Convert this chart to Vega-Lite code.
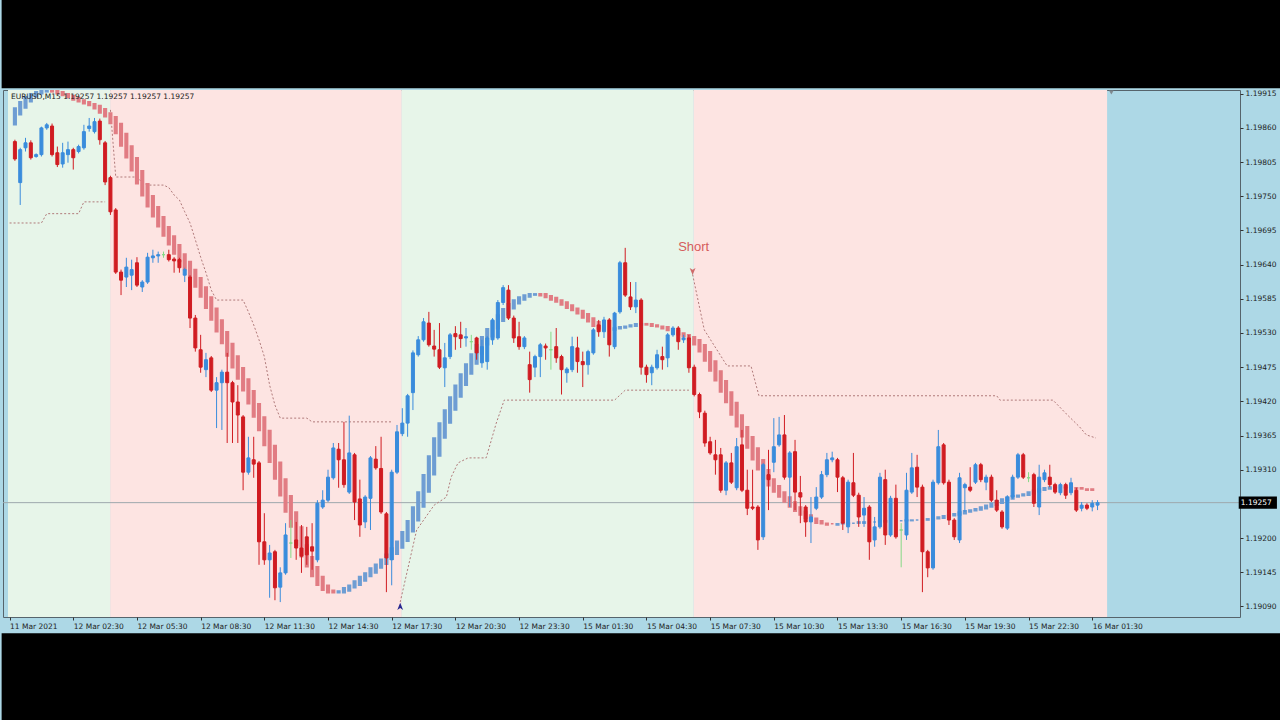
{
"$schema": "https://vega.github.io/schema/vega-lite/v6.json",
"width": 1237, "height": 527,
"autosize": {"type": "none"},
"padding": {"left": 3, "top": 90, "right": 40, "bottom": 103},
"background": "#add8e6",
"config": {"view": {"stroke": "#56646c", "strokeWidth": 1}, "axis": {"labelOverlap": false, "labelSeparation": 0, "labelBound": false}},
"datasets": {
"candles": [
{"i":0,"ma":1.19865,"md":"up"},
{"i":1,"o":1.19838,"h":1.19841,"l":1.19807,"c":1.19810,"ma":1.19881,"md":"up"},
{"i":2,"o":1.19772,"h":1.19828,"l":1.19736,"c":1.19825,"ma":1.19892,"md":"up"},
{"i":3,"o":1.19828,"h":1.19844,"l":1.19822,"c":1.19836,"ma":1.19902,"md":"up"},
{"i":4,"o":1.19836,"h":1.19840,"l":1.19809,"c":1.19812,"ma":1.19910,"md":"up"},
{"i":5,"o":1.19814,"h":1.19819,"l":1.19812,"c":1.19817,"ma":1.19915,"md":"up"},
{"i":6,"o":1.19817,"h":1.19862,"l":1.19814,"c":1.19860,"ma":1.19918,"md":"up"},
{"i":7,"o":1.19860,"h":1.19868,"l":1.19857,"c":1.19865,"ma":1.19920,"md":"up"},
{"i":8,"o":1.19863,"h":1.19867,"l":1.19814,"c":1.19817,"ma":1.19920,"md":"dn"},
{"i":9,"o":1.19820,"h":1.19830,"l":1.19797,"c":1.19801,"ma":1.19918,"md":"dn"},
{"i":10,"o":1.19802,"h":1.19836,"l":1.19796,"c":1.19820,"ma":1.19915,"md":"dn"},
{"i":11,"o":1.19817,"h":1.19838,"l":1.19804,"c":1.19825,"ma":1.19912,"md":"dn"},
{"i":12,"o":1.19825,"h":1.19828,"l":1.19793,"c":1.19812,"ma":1.19909,"md":"dn"},
{"i":13,"o":1.19822,"h":1.19833,"l":1.19819,"c":1.19830,"ma":1.19905,"md":"dn"},
{"i":14,"o":1.19828,"h":1.19865,"l":1.19825,"c":1.19854,"ma":1.19902,"md":"dn"},
{"i":15,"o":1.19859,"h":1.19876,"l":1.19854,"c":1.19863,"ma":1.19899,"md":"dn"},
{"i":16,"o":1.19854,"h":1.19876,"l":1.19851,"c":1.19870,"ma":1.19896,"md":"dn"},
{"i":17,"o":1.19871,"h":1.19875,"l":1.19833,"c":1.19841,"ma":1.19891,"md":"dn"},
{"i":18,"o":1.19836,"h":1.19839,"l":1.19768,"c":1.19773,"ma":1.19884,"md":"dn"},
{"i":19,"o":1.19780,"h":1.19783,"l":1.19720,"c":1.19725,"ma":1.19878,"md":"dn"},
{"i":20,"o":1.19728,"h":1.19731,"l":1.19625,"c":1.19628,"ma":1.19867,"md":"dn"},
{"i":21,"o":1.19628,"h":1.19632,"l":1.19591,"c":1.19615,"ma":1.19851,"md":"dn"},
{"i":22,"o":1.19620,"h":1.19651,"l":1.19604,"c":1.19636,"ma":1.19831,"md":"dn"},
{"i":23,"o":1.19623,"h":1.19648,"l":1.19599,"c":1.19632,"ma":1.19812,"md":"dn"},
{"i":24,"o":1.19643,"h":1.19652,"l":1.19604,"c":1.19607,"ma":1.19791,"md":"dn"},
{"i":25,"o":1.19604,"h":1.19615,"l":1.19596,"c":1.19612,"ma":1.19770,"md":"dn"},
{"i":26,"o":1.19612,"h":1.19659,"l":1.19609,"c":1.19652,"ma":1.19751,"md":"dn"},
{"i":27,"o":1.19651,"h":1.19664,"l":1.19643,"c":1.19654,"ma":1.19733,"md":"dn"},
{"i":28,"o":1.19654,"h":1.19661,"l":1.19643,"c":1.19656,"ma":1.19717,"md":"dn"},
{"i":29,"o":1.19656,"h":1.19661,"l":1.19651,"c":1.19656,"ma":1.19701,"md":"dn"},
{"i":30,"o":1.19656,"h":1.19664,"l":1.19645,"c":1.19648,"ma":1.19686,"md":"dn"},
{"i":31,"o":1.19649,"h":1.19652,"l":1.19627,"c":1.19646,"ma":1.19672,"md":"dn"},
{"i":32,"o":1.19648,"h":1.19651,"l":1.19627,"c":1.19635,"ma":1.19657,"md":"dn"},
{"i":33,"o":1.19623,"h":1.19635,"l":1.19612,"c":1.19632,"ma":1.19645,"md":"dn"},
{"i":34,"o":1.19620,"h":1.19623,"l":1.19538,"c":1.19554,"ma":1.19632,"md":"dn"},
{"i":35,"o":1.19554,"h":1.19559,"l":1.19500,"c":1.19506,"ma":1.19619,"md":"dn"},
{"i":36,"o":1.19503,"h":1.19527,"l":1.19466,"c":1.19475,"ma":1.19604,"md":"dn"},
{"i":37,"o":1.19471,"h":1.19498,"l":1.19459,"c":1.19487,"ma":1.19588,"md":"dn"},
{"i":38,"o":1.19490,"h":1.19493,"l":1.19435,"c":1.19438,"ma":1.19570,"md":"dn"},
{"i":39,"o":1.19438,"h":1.19459,"l":1.19377,"c":1.19450,"ma":1.19551,"md":"dn"},
{"i":40,"o":1.19450,"h":1.19471,"l":1.19374,"c":1.19467,"ma":1.19532,"md":"dn"},
{"i":41,"o":1.19467,"h":1.19498,"l":1.19353,"c":1.19450,"ma":1.19513,"md":"dn"},
{"i":42,"o":1.19450,"h":1.19453,"l":1.19353,"c":1.19419,"ma":1.19493,"md":"dn"},
{"i":43,"o":1.19419,"h":1.19446,"l":1.19353,"c":1.19398,"ma":1.19474,"md":"dn"},
{"i":44,"o":1.19395,"h":1.19398,"l":1.19277,"c":1.19306,"ma":1.19456,"md":"dn"},
{"i":45,"o":1.19306,"h":1.19363,"l":1.19302,"c":1.19329,"ma":1.19437,"md":"dn"},
{"i":46,"o":1.19326,"h":1.19363,"l":1.19297,"c":1.19319,"ma":1.19416,"md":"dn"},
{"i":47,"o":1.19321,"h":1.19324,"l":1.19157,"c":1.19194,"ma":1.19395,"md":"dn"},
{"i":48,"o":1.19194,"h":1.19240,"l":1.19157,"c":1.19165,"ma":1.19373,"md":"dn"},
{"i":49,"o":1.19165,"h":1.19189,"l":1.19104,"c":1.19176,"ma":1.19349,"md":"dn"},
{"i":50,"o":1.19178,"h":1.19181,"l":1.19100,"c":1.19120,"ma":1.19322,"md":"dn"},
{"i":51,"o":1.19121,"h":1.19153,"l":1.19097,"c":1.19144,"ma":1.19295,"md":"dn"},
{"i":52,"o":1.19144,"h":1.19224,"l":1.19141,"c":1.19205,"ma":1.19268,"md":"dn"},
{"i":53,"o":1.19192,"h":1.19229,"l":1.19168,"c":1.19192,"ma":1.19242,"md":"dn"},
{"i":54,"o":1.19197,"h":1.19226,"l":1.19165,"c":1.19184,"ma":1.19218,"md":"dn"},
{"i":55,"o":1.19184,"h":1.19221,"l":1.19144,"c":1.19171,"ma":1.19189,"md":"dn"},
{"i":56,"o":1.19202,"h":1.19218,"l":1.19157,"c":1.19173,"ma":1.19170,"md":"dn"},
{"i":57,"o":1.19186,"h":1.19224,"l":1.19149,"c":1.19179,"ma":1.19154,"md":"dn"},
{"i":58,"o":1.19165,"h":1.19261,"l":1.19161,"c":1.19256,"ma":1.19138,"md":"dn"},
{"i":59,"o":1.19250,"h":1.19277,"l":1.19247,"c":1.19261,"ma":1.19124,"md":"dn"},
{"i":60,"o":1.19261,"h":1.19310,"l":1.19258,"c":1.19298,"ma":1.19116,"md":"dn"},
{"i":61,"o":1.19297,"h":1.19353,"l":1.19294,"c":1.19345,"ma":1.19112,"md":"dn"},
{"i":62,"o":1.19343,"h":1.19353,"l":1.19281,"c":1.19326,"ma":1.19112,"md":"up"},
{"i":63,"o":1.19326,"h":1.19387,"l":1.19281,"c":1.19286,"ma":1.19115,"md":"up"},
{"i":64,"o":1.19274,"h":1.19397,"l":1.19271,"c":1.19337,"ma":1.19120,"md":"up"},
{"i":65,"o":1.19334,"h":1.19337,"l":1.19229,"c":1.19258,"ma":1.19124,"md":"up"},
{"i":66,"o":1.19263,"h":1.19294,"l":1.19202,"c":1.19221,"ma":1.19131,"md":"up"},
{"i":67,"o":1.19226,"h":1.19269,"l":1.19216,"c":1.19266,"ma":1.19138,"md":"up"},
{"i":68,"o":1.19264,"h":1.19332,"l":1.19213,"c":1.19329,"ma":1.19144,"md":"up"},
{"i":69,"o":1.19327,"h":1.19348,"l":1.19310,"c":1.19313,"ma":1.19152,"md":"up"},
{"i":70,"o":1.19312,"h":1.19363,"l":1.19239,"c":1.19242,"ma":1.19158,"md":"up"},
{"i":71,"o":1.19239,"h":1.19242,"l":1.19113,"c":1.19168,"ma":1.19166,"md":"up"},
{"i":72,"o":1.19165,"h":1.19310,"l":1.19124,"c":1.19306,"ma":1.19174,"md":"up"},
{"i":73,"o":1.19306,"h":1.19382,"l":1.19303,"c":1.19371,"ma":1.19184,"md":"up"},
{"i":74,"o":1.19368,"h":1.19409,"l":1.19364,"c":1.19385,"ma":1.19195,"md":"up"},
{"i":75,"o":1.19385,"h":1.19432,"l":1.19363,"c":1.19429,"ma":1.19210,"md":"up"},
{"i":76,"o":1.19434,"h":1.19502,"l":1.19406,"c":1.19498,"ma":1.19228,"md":"up"},
{"i":77,"o":1.19495,"h":1.19525,"l":1.19492,"c":1.19519,"ma":1.19250,"md":"up"},
{"i":78,"o":1.19519,"h":1.19554,"l":1.19516,"c":1.19548,"ma":1.19274,"md":"up"},
{"i":79,"o":1.19546,"h":1.19564,"l":1.19508,"c":1.19511,"ma":1.19302,"md":"up"},
{"i":80,"o":1.19509,"h":1.19535,"l":1.19492,"c":1.19504,"ma":1.19332,"md":"up"},
{"i":81,"o":1.19503,"h":1.19546,"l":1.19472,"c":1.19475,"ma":1.19361,"md":"up"},
{"i":82,"o":1.19474,"h":1.19514,"l":1.19443,"c":1.19490,"ma":1.19385,"md":"up"},
{"i":83,"o":1.19492,"h":1.19530,"l":1.19488,"c":1.19527,"ma":1.19406,"md":"up"},
{"i":84,"o":1.19529,"h":1.19541,"l":1.19503,"c":1.19524,"ma":1.19427,"md":"up"},
{"i":85,"o":1.19527,"h":1.19548,"l":1.19506,"c":1.19521,"ma":1.19446,"md":"up"},
{"i":86,"o":1.19522,"h":1.19538,"l":1.19508,"c":1.19524,"ma":1.19464,"md":"up"},
{"i":87,"o":1.19516,"h":1.19527,"l":1.19503,"c":1.19516,"ma":1.19480,"md":"up"},
{"i":88,"o":1.19522,"h":1.19524,"l":1.19487,"c":1.19498,"ma":1.19496,"md":"up"},
{"i":89,"o":1.19482,"h":1.19519,"l":1.19474,"c":1.19508,"ma":1.19511,"md":"up"},
{"i":90,"o":1.19484,"h":1.19525,"l":1.19471,"c":1.19522,"ma":1.19524,"md":"up"},
{"i":91,"o":1.19519,"h":1.19554,"l":1.19511,"c":1.19551,"ma":1.19537,"md":"up"},
{"i":92,"o":1.19522,"h":1.19583,"l":1.19519,"c":1.19579,"ma":1.19549,"md":"up"},
{"i":93,"o":1.19579,"h":1.19607,"l":1.19575,"c":1.19603,"ma":1.19559,"md":"up"},
{"i":94,"o":1.19599,"h":1.19607,"l":1.19551,"c":1.19554,"ma":1.19569,"md":"up"},
{"i":95,"o":1.19554,"h":1.19558,"l":1.19514,"c":1.19522,"ma":1.19577,"md":"up"},
{"i":96,"o":1.19524,"h":1.19548,"l":1.19503,"c":1.19508,"ma":1.19583,"md":"up"},
{"i":97,"o":1.19508,"h":1.19525,"l":1.19504,"c":1.19522,"ma":1.19588,"md":"up"},
{"i":98,"o":1.19479,"h":1.19500,"l":1.19434,"c":1.19455,"ma":1.19591,"md":"up"},
{"i":99,"o":1.19475,"h":1.19495,"l":1.19459,"c":1.19492,"ma":1.19593,"md":"up"},
{"i":100,"o":1.19492,"h":1.19514,"l":1.19459,"c":1.19511,"ma":1.19593,"md":"dn"},
{"i":101,"o":1.19509,"h":1.19513,"l":1.19487,"c":1.19506,"ma":1.19590,"md":"dn"},
{"i":102,"o":1.19503,"h":1.19532,"l":1.19471,"c":1.19503,"ma":1.19587,"md":"dn"},
{"i":103,"o":1.19508,"h":1.19538,"l":1.19482,"c":1.19490,"ma":1.19583,"md":"dn"},
{"i":104,"o":1.19492,"h":1.19495,"l":1.19431,"c":1.19471,"ma":1.19580,"md":"dn"},
{"i":105,"o":1.19466,"h":1.19475,"l":1.19450,"c":1.19472,"ma":1.19575,"md":"dn"},
{"i":106,"o":1.19471,"h":1.19524,"l":1.19467,"c":1.19508,"ma":1.19570,"md":"dn"},
{"i":107,"o":1.19506,"h":1.19524,"l":1.19466,"c":1.19484,"ma":1.19566,"md":"dn"},
{"i":108,"o":1.19484,"h":1.19500,"l":1.19443,"c":1.19479,"ma":1.19561,"md":"dn"},
{"i":109,"o":1.19479,"h":1.19503,"l":1.19463,"c":1.19500,"ma":1.19554,"md":"dn"},
{"i":110,"o":1.19498,"h":1.19538,"l":1.19495,"c":1.19535,"ma":1.19548,"md":"dn"},
{"i":111,"o":1.19543,"h":1.19551,"l":1.19524,"c":1.19532,"ma":1.19541,"md":"dn"},
{"i":112,"o":1.19532,"h":1.19556,"l":1.19522,"c":1.19551,"ma":1.19537,"md":"dn"},
{"i":113,"o":1.19551,"h":1.19554,"l":1.19492,"c":1.19511,"ma":1.19535,"md":"dn"},
{"i":114,"o":1.19508,"h":1.19564,"l":1.19504,"c":1.19562,"ma":1.19537,"md":"up"},
{"i":115,"o":1.19564,"h":1.19646,"l":1.19561,"c":1.19643,"ma":1.19538,"md":"up"},
{"i":116,"o":1.19643,"h":1.19667,"l":1.19588,"c":1.19591,"ma":1.19540,"md":"up"},
{"i":117,"o":1.19588,"h":1.19612,"l":1.19567,"c":1.19572,"ma":1.19541,"md":"up"},
{"i":118,"o":1.19572,"h":1.19612,"l":1.19562,"c":1.19583,"ma":1.19543,"md":"up"},
{"i":119,"o":1.19583,"h":1.19586,"l":1.19463,"c":1.19475,"ma":1.19545,"md":"up"},
{"i":120,"o":1.19475,"h":1.19479,"l":1.19450,"c":1.19463,"ma":1.19545,"md":"dn"},
{"i":121,"o":1.19466,"h":1.19479,"l":1.19446,"c":1.19475,"ma":1.19543,"md":"dn"},
{"i":122,"o":1.19474,"h":1.19503,"l":1.19471,"c":1.19495,"ma":1.19541,"md":"dn"},
{"i":123,"o":1.19492,"h":1.19508,"l":1.19471,"c":1.19487,"ma":1.19540,"md":"dn"},
{"i":124,"o":1.19490,"h":1.19530,"l":1.19475,"c":1.19527,"ma":1.19537,"md":"dn"},
{"i":125,"o":1.19527,"h":1.19541,"l":1.19524,"c":1.19538,"ma":1.19534,"md":"dn"},
{"i":126,"o":1.19538,"h":1.19541,"l":1.19503,"c":1.19516,"ma":1.19530,"md":"dn"},
{"i":127,"o":1.19519,"h":1.19527,"l":1.19514,"c":1.19522,"ma":1.19527,"md":"dn"},
{"i":128,"o":1.19522,"h":1.19527,"l":1.19466,"c":1.19474,"ma":1.19524,"md":"dn"},
{"i":129,"o":1.19475,"h":1.19479,"l":1.19428,"c":1.19431,"ma":1.19519,"md":"dn"},
{"i":130,"o":1.19431,"h":1.19434,"l":1.19393,"c":1.19403,"ma":1.19511,"md":"dn"},
{"i":131,"o":1.19401,"h":1.19405,"l":1.19347,"c":1.19353,"ma":1.19500,"md":"dn"},
{"i":132,"o":1.19355,"h":1.19363,"l":1.19334,"c":1.19337,"ma":1.19485,"md":"dn"},
{"i":133,"o":1.19334,"h":1.19358,"l":1.19302,"c":1.19326,"ma":1.19469,"md":"dn"},
{"i":134,"o":1.19334,"h":1.19345,"l":1.19273,"c":1.19277,"ma":1.19453,"md":"dn"},
{"i":135,"o":1.19277,"h":1.19324,"l":1.19269,"c":1.19321,"ma":1.19435,"md":"dn"},
{"i":136,"o":1.19321,"h":1.19337,"l":1.19287,"c":1.19290,"ma":1.19418,"md":"dn"},
{"i":137,"o":1.19281,"h":1.19361,"l":1.19277,"c":1.19347,"ma":1.19398,"md":"dn"},
{"i":138,"o":1.19350,"h":1.19374,"l":1.19274,"c":1.19277,"ma":1.19379,"md":"dn"},
{"i":139,"o":1.19277,"h":1.19310,"l":1.19237,"c":1.19248,"ma":1.19363,"md":"dn"},
{"i":140,"o":1.19250,"h":1.19310,"l":1.19245,"c":1.19248,"ma":1.19345,"md":"dn"},
{"i":141,"o":1.19250,"h":1.19253,"l":1.19181,"c":1.19197,"ma":1.19326,"md":"dn"},
{"i":142,"o":1.19202,"h":1.19321,"l":1.19197,"c":1.19318,"ma":1.19310,"md":"dn"},
{"i":143,"o":1.19302,"h":1.19342,"l":1.19245,"c":1.19294,"ma":1.19295,"md":"dn"},
{"i":144,"o":1.19322,"h":1.19393,"l":1.19306,"c":1.19347,"ma":1.19284,"md":"dn"},
{"i":145,"o":1.19350,"h":1.19395,"l":1.19347,"c":1.19366,"ma":1.19274,"md":"dn"},
{"i":146,"o":1.19366,"h":1.19398,"l":1.19294,"c":1.19298,"ma":1.19266,"md":"dn"},
{"i":147,"o":1.19298,"h":1.19340,"l":1.19250,"c":1.19337,"ma":1.19258,"md":"dn"},
{"i":148,"o":1.19339,"h":1.19358,"l":1.19245,"c":1.19274,"ma":1.19250,"md":"dn"},
{"i":149,"o":1.19273,"h":1.19300,"l":1.19224,"c":1.19266,"ma":1.19243,"md":"dn"},
{"i":150,"o":1.19250,"h":1.19253,"l":1.19202,"c":1.19226,"ma":1.19237,"md":"dn"},
{"i":151,"o":1.19226,"h":1.19266,"l":1.19192,"c":1.19234,"ma":1.19232,"md":"dn"},
{"i":152,"o":1.19248,"h":1.19282,"l":1.19245,"c":1.19266,"ma":1.19228,"md":"dn"},
{"i":153,"o":1.19266,"h":1.19308,"l":1.19263,"c":1.19302,"ma":1.19224,"md":"dn"},
{"i":154,"o":1.19302,"h":1.19337,"l":1.19298,"c":1.19326,"ma":1.19223,"md":"dn"},
{"i":155,"o":1.19326,"h":1.19339,"l":1.19322,"c":1.19329,"ma":1.19221,"md":"dn"},
{"i":156,"o":1.19326,"h":1.19329,"l":1.19274,"c":1.19298,"ma":1.19223,"md":"up"},
{"i":157,"o":1.19297,"h":1.19300,"l":1.19213,"c":1.19224,"ma":1.19223,"md":"up"},
{"i":158,"o":1.19218,"h":1.19294,"l":1.19208,"c":1.19290,"ma":1.19224,"md":"up"},
{"i":159,"o":1.19289,"h":1.19337,"l":1.19266,"c":1.19269,"ma":1.19224,"md":"up"},
{"i":160,"o":1.19269,"h":1.19273,"l":1.19218,"c":1.19234,"ma":1.19224,"md":"up"},
{"i":161,"o":1.19237,"h":1.19266,"l":1.19218,"c":1.19248,"ma":1.19226,"md":"up"},
{"i":162,"o":1.19250,"h":1.19253,"l":1.19165,"c":1.19194,"ma":1.19226,"md":"up"},
{"i":163,"o":1.19197,"h":1.19234,"l":1.19186,"c":1.19218,"ma":1.19226,"md":"up"},
{"i":164,"o":1.19218,"h":1.19305,"l":1.19215,"c":1.19298,"ma":1.19226,"md":"up"},
{"i":165,"o":1.19294,"h":1.19310,"l":1.19189,"c":1.19205,"ma":1.19228,"md":"up"},
{"i":166,"o":1.19205,"h":1.19268,"l":1.19202,"c":1.19264,"ma":1.19228,"md":"up"},
{"i":167,"o":1.19264,"h":1.19286,"l":1.19199,"c":1.19202,"ma":1.19228,"md":"up"},
{"i":168,"o":1.19213,"h":1.19224,"l":1.19153,"c":1.19213,"ma":1.19228,"md":"up"},
{"i":169,"o":1.19205,"h":1.19305,"l":1.19197,"c":1.19277,"ma":1.19228,"md":"up"},
{"i":170,"o":1.19274,"h":1.19337,"l":1.19271,"c":1.19313,"ma":1.19229,"md":"up"},
{"i":171,"o":1.19314,"h":1.19334,"l":1.19266,"c":1.19282,"ma":1.19229,"md":"up"},
{"i":172,"o":1.19282,"h":1.19286,"l":1.19113,"c":1.19178,"ma":1.19229,"md":"up"},
{"i":173,"o":1.19178,"h":1.19181,"l":1.19137,"c":1.19152,"ma":1.19229,"md":"up"},
{"i":174,"o":1.19152,"h":1.19294,"l":1.19149,"c":1.19290,"ma":1.19231,"md":"up"},
{"i":175,"o":1.19289,"h":1.19374,"l":1.19286,"c":1.19347,"ma":1.19232,"md":"up"},
{"i":176,"o":1.19350,"h":1.19353,"l":1.19286,"c":1.19289,"ma":1.19234,"md":"up"},
{"i":177,"o":1.19290,"h":1.19294,"l":1.19221,"c":1.19229,"ma":1.19236,"md":"up"},
{"i":178,"o":1.19229,"h":1.19232,"l":1.19197,"c":1.19202,"ma":1.19237,"md":"up"},
{"i":179,"o":1.19197,"h":1.19305,"l":1.19192,"c":1.19297,"ma":1.19239,"md":"up"},
{"i":180,"o":1.19281,"h":1.19289,"l":1.19242,"c":1.19286,"ma":1.19242,"md":"up"},
{"i":181,"o":1.19282,"h":1.19314,"l":1.19274,"c":1.19277,"ma":1.19244,"md":"up"},
{"i":182,"o":1.19290,"h":1.19321,"l":1.19287,"c":1.19318,"ma":1.19245,"md":"up"},
{"i":183,"o":1.19318,"h":1.19321,"l":1.19290,"c":1.19294,"ma":1.19247,"md":"up"},
{"i":184,"o":1.19290,"h":1.19302,"l":1.19277,"c":1.19298,"ma":1.19250,"md":"up"},
{"i":185,"o":1.19298,"h":1.19302,"l":1.19258,"c":1.19261,"ma":1.19253,"md":"up"},
{"i":186,"o":1.19261,"h":1.19277,"l":1.19242,"c":1.19245,"ma":1.19256,"md":"up"},
{"i":187,"o":1.19242,"h":1.19245,"l":1.19215,"c":1.19218,"ma":1.19260,"md":"up"},
{"i":188,"o":1.19216,"h":1.19269,"l":1.19213,"c":1.19266,"ma":1.19263,"md":"up"},
{"i":189,"o":1.19266,"h":1.19302,"l":1.19263,"c":1.19298,"ma":1.19266,"md":"up"},
{"i":190,"o":1.19298,"h":1.19337,"l":1.19295,"c":1.19334,"ma":1.19268,"md":"up"},
{"i":191,"o":1.19334,"h":1.19337,"l":1.19295,"c":1.19298,"ma":1.19269,"md":"up"},
{"i":192,"o":1.19297,"h":1.19306,"l":1.19290,"c":1.19297,"ma":1.19271,"md":"up"},
{"i":193,"o":1.19302,"h":1.19305,"l":1.19250,"c":1.19256,"ma":1.19274,"md":"up"},
{"i":194,"o":1.19250,"h":1.19318,"l":1.19237,"c":1.19298,"ma":1.19277,"md":"up"},
{"i":195,"o":1.19294,"h":1.19310,"l":1.19290,"c":1.19305,"ma":1.19279,"md":"up"},
{"i":196,"o":1.19298,"h":1.19318,"l":1.19282,"c":1.19286,"ma":1.19281,"md":"up"},
{"i":197,"o":1.19286,"h":1.19289,"l":1.19271,"c":1.19274,"ma":1.19282,"md":"up"},
{"i":198,"o":1.19273,"h":1.19289,"l":1.19269,"c":1.19286,"ma":1.19282,"md":"dn"},
{"i":199,"o":1.19286,"h":1.19289,"l":1.19263,"c":1.19269,"ma":1.19282,"md":"dn"},
{"i":200,"o":1.19273,"h":1.19297,"l":1.19269,"c":1.19289,"ma":1.19281,"md":"dn"},
{"i":201,"o":1.19277,"h":1.19281,"l":1.19242,"c":1.19245,"ma":1.19281,"md":"dn"},
{"i":202,"o":1.19248,"h":1.19258,"l":1.19243,"c":1.19253,"ma":1.19279,"md":"dn"},
{"i":203,"o":1.19253,"h":1.19256,"l":1.19245,"c":1.19248,"ma":1.19279,"md":"dn"},
{"i":204,"o":1.19250,"h":1.19261,"l":1.19243,"c":1.19256,"ma":1.19277,"md":"dn"},
{"i":205,"o":1.19253,"h":1.19261,"l":1.19245,"c":1.19257,"ma":1.19277,"md":"dn"}
],
"stop": [
{"i":0,"v":1.19707,"seg":"g1"},{"i":6,"v":1.19707,"seg":"g1"},{"i":7,"v":1.19722,"seg":"g1"},{"i":13,"v":1.19722,"seg":"g1"},{"i":14,"v":1.19741,"seg":"g1"},{"i":18,"v":1.19741,"seg":"g1"},
{"i":19,"v":1.19889,"seg":"p1"},{"i":20,"v":1.19781,"seg":"p1"},{"i":24,"v":1.19781,"seg":"p1"},{"i":25,"v":1.19772,"seg":"p1"},{"i":26,"v":1.19768,"seg":"p1"},{"i":29,"v":1.19768,"seg":"p1"},{"i":30,"v":1.19764,"seg":"p1"},{"i":31,"v":1.19752,"seg":"p1"},{"i":32,"v":1.19744,"seg":"p1"},{"i":33,"v":1.19725,"seg":"p1"},{"i":34,"v":1.19707,"seg":"p1"},{"i":35,"v":1.19680,"seg":"p1"},{"i":36,"v":1.19652,"seg":"p1"},{"i":37,"v":1.19627,"seg":"p1"},{"i":38,"v":1.19599,"seg":"p1"},{"i":39,"v":1.19583,"seg":"p1"},{"i":44,"v":1.19583,"seg":"p1"},{"i":45,"v":1.19564,"seg":"p1"},{"i":46,"v":1.19543,"seg":"p1"},{"i":47,"v":1.19519,"seg":"p1"},{"i":48,"v":1.19492,"seg":"p1"},{"i":49,"v":1.19446,"seg":"p1"},{"i":50,"v":1.19414,"seg":"p1"},{"i":51,"v":1.19393,"seg":"p1"},{"i":56,"v":1.19393,"seg":"p1"},{"i":57,"v":1.19387,"seg":"p1"},{"i":72,"v":1.19387,"seg":"p1"},
{"i":73.6,"v":1.19097,"seg":"g2"},{"i":76.7,"v":1.19213,"seg":"g2"},{"i":80,"v":1.19253,"seg":"g2"},{"i":82.3,"v":1.19266,"seg":"g2"},{"i":83.2,"v":1.19298,"seg":"g2"},{"i":84.5,"v":1.19321,"seg":"g2"},{"i":86.4,"v":1.19329,"seg":"g2"},{"i":89.8,"v":1.19329,"seg":"g2"},{"i":91.7,"v":1.19385,"seg":"g2"},{"i":93.2,"v":1.19422,"seg":"g2"},{"i":114,"v":1.19422,"seg":"g2"},{"i":116,"v":1.19438,"seg":"g2"},{"i":128,"v":1.19438,"seg":"g2"},
{"i":128.7,"v":1.19624,"seg":"p2"},{"i":130.9,"v":1.19535,"seg":"p2"},{"i":135.2,"v":1.19477,"seg":"p2"},{"i":139.7,"v":1.19477,"seg":"p2"},{"i":141.2,"v":1.19429,"seg":"p2"},{"i":186,"v":1.19429,"seg":"p2"},{"i":186.6,"v":1.19422,"seg":"p2"},{"i":196.6,"v":1.19422,"seg":"p2"},{"i":199.1,"v":1.19400,"seg":"p2"},{"i":201.6,"v":1.19379,"seg":"p2"},{"i":202.9,"v":1.19366,"seg":"p2"},{"i":204.7,"v":1.19361,"seg":"p2"}
],
"zones": [
{"a":-0.3,"b":18.95,"z":"bull"},{"a":18.95,"b":73.9,"z":"bear"},{"a":73.9,"b":128.9,"z":"bull"},{"a":128.9,"b":206.8,"z":"bear"}
],
"signals": [
{"i":73.6,"p":1.19089,"s":"buy"},{"i":128.7,"p":1.19630,"s":"sell"}
]
},
"layer": [
{
"data": {"name": "zones"},
"mark": {"type": "rect"},
"encoding": {
"x": {"field": "a", "type": "quantitative", "scale": {"domain": [-0.3, 230.9], "nice": false, "zero": false},
"axis": {"orient": "bottom", "title": null, "grid": false, "domain": false, "ticks": true, "tickSize": 3, "tickColor": "#333333", "labelAlign": "left", "labelBaseline": "top", "labelPadding": 2, "labelDx": -1, "labelFontSize": 7.5, "labelFont": "DejaVu Sans", "labelColor": "#1e1e1e", "labelOverlap": false, "labelFlush": false,
"values": [0,12,24,36,48,60,72,84,96,108,120,132,144,156,168,180,192,204],
"labelExpr": "['11 Mar 2021','12 Mar 02:30','12 Mar 05:30','12 Mar 08:30','12 Mar 11:30','12 Mar 14:30','12 Mar 17:30','12 Mar 20:30','12 Mar 23:30','15 Mar 01:30','15 Mar 04:30','15 Mar 07:30','15 Mar 10:30','15 Mar 13:30','15 Mar 16:30','15 Mar 19:30','15 Mar 22:30','16 Mar 01:30'][round(datum.value/12)]"}},
"x2": {"field": "b"},
"y": {"datum": 1.19073, "type": "quantitative", "scale": {"domain": [1.19073, 1.19921], "nice": false, "zero": false},
"axis": {"orient": "right", "title": null, "grid": false, "domain": false, "ticks": true, "tickSize": 3, "tickColor": "#333333", "labelPadding": 2, "labelFontSize": 7.5, "labelFont": "DejaVu Sans", "labelColor": "#1e1e1e", "labelOverlap": false, "labelFlush": false, "format": ".5f", "tickCount": 15,
"values": [1.19915,1.1986,1.19805,1.1975,1.19695,1.1964,1.19585,1.1953,1.19475,1.1942,1.19365,1.1931,1.192,1.19145,1.1909]}},
"y2": {"datum": 1.19921},
"fill": {"condition": {"test": "datum.z == 'bull'", "value": "#e7f5e9"}, "value": "#fde4e2"}
}
},
{
"data": {"values": [{}]},
"mark": {"type": "rect", "color": "#000000"},
"encoding": {
"x": {"datum": -1.5, "type": "quantitative"},
"x2": {"datum": 240},
"y": {"datum": 1.19924, "type": "quantitative"},
"y2": {"datum": 1.2008}
}
},
{
"data": {"values": [{}]},
"mark": {"type": "rect", "color": "#000000"},
"encoding": {
"x": {"datum": -1.5, "type": "quantitative"},
"x2": {"datum": 240},
"y": {"datum": 1.18895, "type": "quantitative"},
"y2": {"datum": 1.19047}
}
},
{
"data": {"values": [{}]},
"mark": {"type": "rule", "color": "#9ea8ad", "strokeWidth": 1},
"encoding": {"y": {"datum": 1.19257, "type": "quantitative"}}
},
{
"data": {"name": "stop"},
"mark": {"type": "line", "strokeDash": [2, 2], "strokeWidth": 1, "color": "#b07a7a", "clip": true},
"encoding": {
"x": {"field": "i", "type": "quantitative"},
"y": {"field": "v", "type": "quantitative"},
"detail": {"field": "seg", "type": "nominal"}
}
},
{
"data": {"name": "candles"},
"transform": [
{"window": [{"op": "lag", "field": "ma", "as": "mp"}, {"op": "lead", "field": "ma", "as": "mn"}], "sort": [{"field": "i", "order": "ascending"}]},
{"filter": "isValid(datum.mp) && isValid(datum.mn)"}
],
"mark": {"type": "bar", "width": 2.6, "strokeWidth": 1.5, "clip": true},
"encoding": {
"x": {"field": "i", "type": "quantitative"},
"y": {"field": "mp", "type": "quantitative"},
"y2": {"field": "mn"},
"fill": {"condition": {"test": "datum.md == 'up'", "value": "#6e9dd3"}, "value": "#e17c83"},
"stroke": {"condition": {"test": "datum.md == 'up'", "value": "#6e9dd3"}, "value": "#e17c83"}
}
},
{
"data": {"name": "candles"},
"transform": [{"filter": "isValid(datum.o)"}],
"mark": {"type": "rule", "strokeWidth": 1},
"encoding": {
"x": {"field": "i", "type": "quantitative"},
"y": {"field": "l", "type": "quantitative"},
"y2": {"field": "h"},
"color": {"condition": [{"test": "datum.c > datum.o", "value": "#3a8cdc"}, {"test": "datum.c < datum.o", "value": "#d01c22"}], "value": "#86d986"}
}
},
{
"data": {"name": "candles"},
"transform": [{"filter": "isValid(datum.o)"}],
"mark": {"type": "bar", "width": 3, "strokeWidth": 1},
"encoding": {
"x": {"field": "i", "type": "quantitative"},
"y": {"field": "o", "type": "quantitative"},
"y2": {"field": "c"},
"fill": {"condition": [{"test": "datum.c > datum.o", "value": "#3a8cdc"}, {"test": "datum.c < datum.o", "value": "#d01c22"}], "value": "#86d986"},
"stroke": {"condition": [{"test": "datum.c > datum.o", "value": "#3a8cdc"}, {"test": "datum.c < datum.o", "value": "#d01c22"}], "value": "#86d986"}
}
},
{
"data": {"name": "signals"},
"mark": {"type": "point", "filled": true, "size": 70, "opacity": 1},
"encoding": {
"x": {"field": "i", "type": "quantitative"},
"y": {"field": "p", "type": "quantitative"},
"shape": {"condition": {"test": "datum.s == 'buy'", "value": "M0,-1L0.7,0.7L0,0.25L-0.7,0.7Z"}, "value": "M0,1L0.7,-0.7L0,-0.25L-0.7,-0.7Z"},
"color": {"condition": {"test": "datum.s == 'buy'", "value": "#26268f"}, "value": "#cf6a6a"}
}
},
{
"data": {"values": [{"t": "Short"}]},
"mark": {"type": "text", "font": "Liberation Sans", "fontSize": 13, "color": "#d55c5c", "align": "center", "baseline": "middle"},
"encoding": {
"x": {"datum": 128.9, "type": "quantitative"},
"y": {"datum": 1.19669, "type": "quantitative"},
"text": {"field": "t"}
}
},
{
"data": {"values": [{"t": "EURUSD,M15  1.19257 1.19257 1.19257 1.19257"}]},
"mark": {"type": "text", "font": "DejaVu Sans", "fontSize": 7.5, "color": "#1a1a1a", "align": "left", "baseline": "middle"},
"encoding": {
"x": {"datum": 0.25, "type": "quantitative"},
"y": {"datum": 1.1991, "type": "quantitative"},
"text": {"field": "t"}
}
},
{
"data": {"values": [{}]},
"mark": {"type": "point", "shape": "triangle-down", "filled": true, "size": 22, "color": "#7f8a90", "opacity": 1},
"encoding": {
"x": {"datum": 207.6, "type": "quantitative"},
"y": {"datum": 1.19917, "type": "quantitative"}
}
},
{
"data": {"values": [{}]},
"mark": {"type": "rect", "color": "#000000"},
"encoding": {
"x": {"datum": 231.6, "type": "quantitative"},
"x2": {"datum": 238.8},
"y": {"datum": 1.19247, "type": "quantitative"},
"y2": {"datum": 1.19267}
}
},
{
"data": {"values": [{"t": "1.19257"}]},
"mark": {"type": "text", "font": "DejaVu Sans", "fontSize": 7.5, "color": "#ffffff", "align": "left", "baseline": "middle"},
"encoding": {
"x": {"datum": 232.0, "type": "quantitative"},
"y": {"datum": 1.19257, "type": "quantitative"},
"text": {"field": "t"}
}
}
]
}
